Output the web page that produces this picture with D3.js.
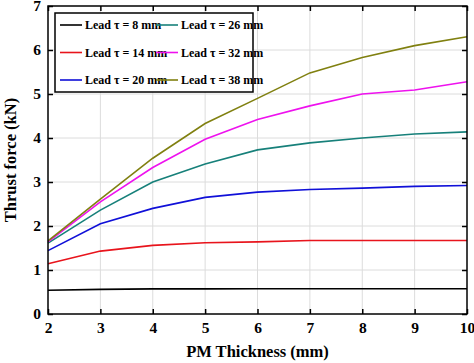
<!DOCTYPE html>
<html>
<head>
<meta charset="utf-8">
<script src="https://cdn.jsdelivr.net/npm/d3@7/dist/d3.min.js"></script>
<style>
  body { margin: 0; background: #fff; }
  svg text { font-family: "Liberation Serif", "Times New Roman", serif; font-weight: bold; fill: #000; }
  .axisG .domain { display: none; }
  .axisG text { font-size: 15.5px; }
</style>
</head>
<body>
<div id="chart"></div>
<script>
'use strict';

// Data
const thickness = [2, 3, 4, 5, 6, 7, 8, 9, 10];
const leadLabels = ['Lead τ = 8 mm', 'Lead τ = 14 mm', 'Lead τ = 20 mm',
    'Lead τ = 26 mm', 'Lead τ = 32 mm', 'Lead τ = 38 mm'];
const lead8 = [0.54, 0.56, 0.57, 0.57, 0.575, 0.575, 0.575, 0.575, 0.575];
const lead14 = [1.14, 1.43, 1.56, 1.62, 1.64, 1.67, 1.67, 1.67, 1.67];
const lead20 = [1.44, 2.05, 2.40, 2.65, 2.77, 2.83, 2.86, 2.90, 2.92];
const lead26 = [1.61, 2.36, 3.00, 3.41, 3.73, 3.89, 4.00, 4.09, 4.14];
const lead32 = [1.64, 2.55, 3.33, 3.97, 4.42, 4.73, 5.00, 5.09, 5.28];
const lead38 = [1.66, 2.61, 3.54, 4.33, 4.90, 5.48, 5.83, 6.10, 6.30];
const colors = ['#000000', '#e8141c', '#1010d8', '#17807a', '#ee12ee', '#808010'];
const xTicks = [2, 3, 4, 5, 6, 7, 8, 9, 10];
const yTicks = [0, 1, 2, 3, 4, 5, 6, 7];

const series = [lead8, lead14, lead20, lead26, lead32, lead38];

// Configs
const svgW = 474, svgH = 363;
const m = {top: 6, right: 7, bottom: 49, left: 48};
const gW = svgW - m.left - m.right;
const gH = svgH - m.top - m.bottom;
const tickLen = 5;

const xScale = d3.scaleLinear().domain([2, 10]).range([0, gW]);
const yScale = d3.scaleLinear().domain([0, 7]).range([gH, 0]);

const svg = d3.select('#chart').append('svg')
    .attr('width', svgW)
    .attr('height', svgH);
const g = svg.append('g')
    .attr('transform', `translate(${m.left},${m.top})`);

// Grid
g.append('g').selectAll('line.gx')
    .data(xTicks.slice(1, -1))
    .join('line')
    .attr('x1', d => xScale(d)).attr('x2', d => xScale(d))
    .attr('y1', 0).attr('y2', gH)
    .attr('stroke', '#dcdcdc').attr('stroke-width', 1);
g.append('g').selectAll('line.gy')
    .data(yTicks.slice(1, -1))
    .join('line')
    .attr('x1', 0).attr('x2', gW)
    .attr('y1', d => yScale(d)).attr('y2', d => yScale(d))
    .attr('stroke', '#dcdcdc').attr('stroke-width', 1);

// Lines
const line = d3.line()
    .x((d, i) => xScale(thickness[i]))
    .y(d => yScale(d));
g.append('g').selectAll('path.series')
    .data(series)
    .join('path')
    .attr('class', 'series')
    .attr('fill', 'none')
    .attr('stroke', (d, i) => colors[i])
    .attr('stroke-width', 1.6)
    .attr('d', line);

// Axes (ticks inward)
const fmt = d3.format('d');
g.append('g').attr('class', 'axisG')
    .attr('transform', `translate(0,${gH})`)
    .call(d3.axisBottom(xScale).tickValues(xTicks).tickFormat(fmt).tickSizeInner(-tickLen).tickPadding(8));
g.append('g').attr('class', 'axisG')
    .call(d3.axisTop(xScale).tickValues(xTicks).tickSizeInner(-tickLen).tickFormat(''));
g.append('g').attr('class', 'axisG')
    .call(d3.axisLeft(yScale).tickValues(yTicks).tickFormat(fmt).tickSizeInner(-tickLen).tickPadding(7));
g.append('g').attr('class', 'axisG')
    .attr('transform', `translate(${gW},0)`)
    .call(d3.axisRight(yScale).tickValues(yTicks).tickSizeInner(-tickLen).tickFormat(''));
g.selectAll('.axisG .tick line').attr('stroke', '#000').attr('stroke-width', 1.5);

// Frame
g.append('rect')
    .attr('width', gW).attr('height', gH)
    .attr('fill', 'none').attr('stroke', '#000').attr('stroke-width', 1.5);

// Axis titles
svg.append('text')
    .attr('x', m.left + gW / 2).attr('y', 357)
    .attr('text-anchor', 'middle')
    .style('font-size', '16.5px')
    .text('PM Thickness (mm)');
svg.append('text')
    .attr('transform', `translate(16,${m.top + gH / 2}) rotate(-90)`)
    .attr('text-anchor', 'middle')
    .style('font-size', '16.5px')
    .text('Thrust force (kN)');

// Legend
const legend = svg.append('g').attr('transform', 'translate(55,13)');
legend.append('rect')
    .attr('width', 198).attr('height', 79)
    .attr('fill', '#fff').attr('stroke', '#000').attr('stroke-width', 1.5);
const item = legend.selectAll('g.item')
    .data(leadLabels)
    .join('g')
    .attr('class', 'item')
    .attr('transform', (d, i) => `translate(${Math.floor(i / 3) * 96},${12 + (i % 3) * 27.5})`);
item.append('line')
    .attr('x1', 5).attr('x2', 27)
    .attr('stroke', (d, i) => colors[i]).attr('stroke-width', 1.6);
item.append('text')
    .attr('x', 30).attr('y', 4)
    .style('font-size', '12px')
    .text(d => d);
</script>
</body>
</html>
